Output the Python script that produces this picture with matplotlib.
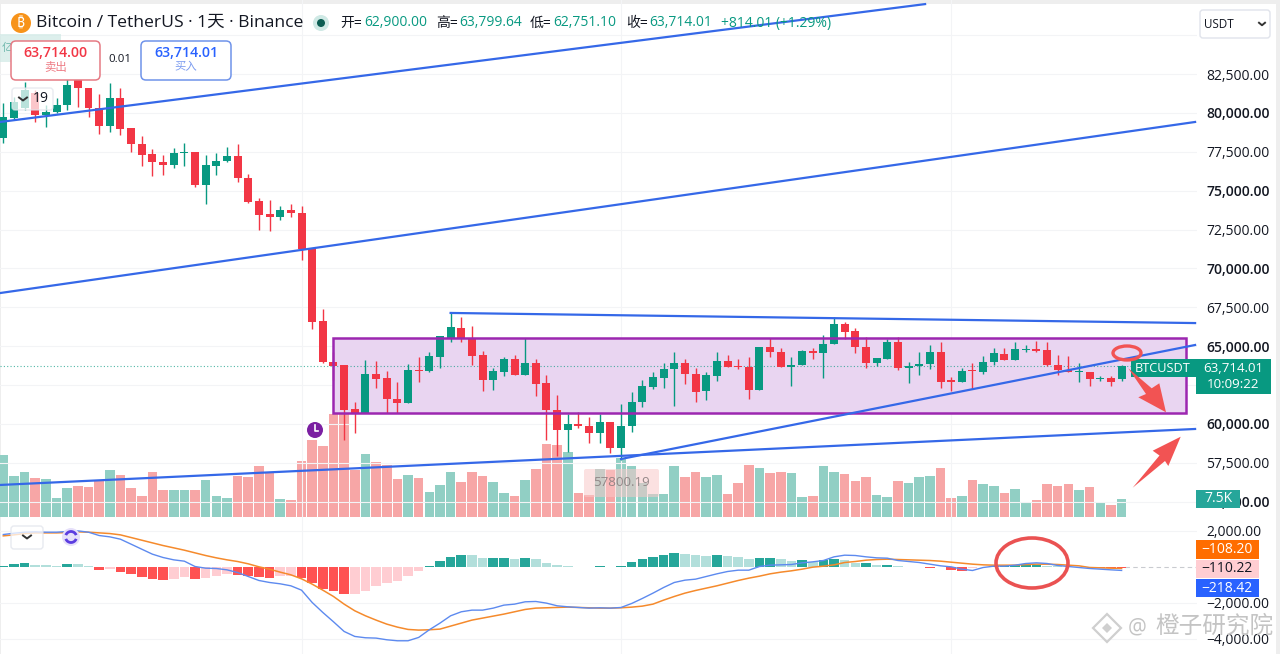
import matplotlib
matplotlib.use("Agg")
import matplotlib.pyplot as plt
from matplotlib.patches import Rectangle, FancyBboxPatch, Circle, Ellipse, Polygon, Arc

plt.rcParams['font.family'] = ['Open Sans', 'Noto Sans CJK SC', 'DejaVu Sans']

# daily candles
opens = [78390,79680,80320,81280,79870,80060,80510,82380,81610,80320,79160,80960,79030,78000,77360,76850,76650,77430,77490,75370,
         76590,76910,77230,75820,74340,73500,73310,73760,73570,71320,66620,63990,63790,60960,60710,63220,62960,61610,61350,63470,
         63410,64310,65530,66170,65530,64440,62830,63340,64180,63150,63920,62640,60900,59610,60000,59870,59420,60130,58460,59870,
         61410,62380,62960,63540,63920,63220,62120,63090,64050,63730,63670,62190,64950,64630,63670,63790,64690,64570,65140,66430,
         65980,64950,63920,64180,65270,63600,63730,63860,64630,62830,62700,63470,63340,63990,64500,64120,64790,64820,64760,63790,
         63470,63340,63340,62890,62960,62900]
highs = [80640,81030,81990,81480,80510,80960,82440,82760,81610,81220,81930,81610,79030,78520,77680,77300,77750,78070,77490,77300,
         77430,77810,78000,76070,74530,74400,74020,74150,74020,71320,67390,64630,63790,61410,64120,64050,63410,62700,63860,64310,
         64630,65660,67200,66880,66300,64690,63600,64310,64440,65530,64180,63150,61860,60640,60770,60450,60640,60130,61290,62060,
         62830,63340,63920,64630,64180,63600,63340,64630,64440,64180,64310,64950,65530,64890,64310,64760,64890,65720,66880,66560,
         66170,65590,64240,65470,65590,63990,64630,65080,65270,63020,63600,63920,64370,64890,64890,65270,65080,65340,65270,64440,
         64370,63920,63340,63090,63090,63800]
lows = [78070,79610,80190,79420,79100,80000,80190,80380,79740,78650,78770,78580,77490,76590,75950,76010,76460,76590,75240,74150,
        76010,76850,75560,74210,72470,72410,73120,73310,70550,66110,63920,62830,58970,59420,60710,62310,60710,60710,61350,62700,
        63340,63600,65270,65270,63790,62120,62190,63090,63150,63150,61800,58970,57940,58200,59740,58780,58780,58140,57690,59490,
        61090,62250,62310,61160,62570,61410,61540,62760,63660,63540,61610,62190,64310,63670,62440,63790,64180,62960,65140,65470,
        64570,63600,63730,64180,63470,62640,63150,63540,62310,62120,62700,62250,63220,63790,64120,64120,64630,64630,63730,63150,
        63340,62700,62440,62760,62440,62751]
closes = [79740,80700,81480,79870,80060,80510,81800,81610,80320,79160,80960,78970,78000,77300,76850,76650,77430,77490,75370,76650,
          76910,77230,75820,74270,73440,73310,73760,73570,71250,66560,63990,63730,60900,60710,63220,62890,61610,61350,63470,63410,
          64370,65660,66240,65530,64370,62830,63410,64180,63150,63920,62570,60900,59610,60000,59870,59420,60130,58460,59870,61410,
          62440,63020,63540,63920,63220,62060,63150,64050,63670,63670,62190,64950,64630,63670,63790,64690,64570,65140,66430,65920,
          64950,63920,64240,65270,63600,63730,63860,64630,62700,62700,63410,63410,63990,64570,64120,64820,64820,64690,63790,63470,
          63340,63410,62890,62960,62700,63714.01]
# volume in thousands
volumes = [25.2,16.9,18.3,16.1,15.7,7.9,12.0,12.8,12.4,14.7,19.4,17.2,12.0,8.7,18.4,10.9,11.2,11.2,11.2,15.0,
           8.7,7.9,16.9,16.5,21.0,18.3,7.5,7.1,23.1,31.5,28.9,42.1,42.1,19.4,25.6,22.4,21.4,15.7,17.2,16.1,
           10.2,13.1,18.3,14.3,18.6,16.9,14.3,9.8,8.5,15.3,19.8,29.7,29.3,26.5,9.8,9.1,19.8,19.1,24.1,21.0,
           13.9,9.4,9.4,21.0,16.5,18.4,16.5,17.3,9.4,13.9,21.4,20.2,18.0,18.4,18.0,8.3,8.7,21.0,18.4,17.6,
           14.6,16.5,9.1,8.3,14.7,13.9,16.5,16.9,20.2,7.9,8.7,15.3,13.5,12.8,9.8,11.6,6.1,7.1,13.5,12.8,
           13.5,10.9,12.4,5.7,5.0,7.5]
macd_line = [1776,1850,1906,1924,1906,1906,1943,1980,1906,1721,1647,1517,1240,962,685,500,370,296,0,-93,
             -111,-185,-333,-555,-777,-888,-962,-1073,-1314,-1998,-2553,-3071,-3608,-3885,-3959,-3978,-4070,-4126,-4126,-3941,
             -3515,-3145,-2738,-2516,-2424,-2424,-2313,-2146,-2091,-1961,-1943,-2035,-2183,-2239,-2276,-2313,-2294,-2313,-2276,-2054,
             -1776,-1480,-1166,-888,-759,-703,-555,-407,-278,-204,-204,0,74,93,111,204,259,333,537,629,
             611,537,481,463,333,278,222,130,37,-19,-148,-222,-56,19,19,74,167,204,167,56,
             0,-56,-111,-148,-185,-218.42]
signal_line = [1702,1757,1831,1868,1868,1868,1887,1924,1906,1868,1831,1757,1609,1461,1313,1165,1036,906,758,610,
               481,370,277,148,-18,-148,-314,-462,-684,-980,-1314,-1665,-2090,-2460,-2738,-2978,-3200,-3367,-3496,-3533,
               -3515,-3478,-3311,-3145,-2978,-2867,-2756,-2645,-2516,-2386,-2312,-2294,-2275,-2257,-2275,-2294,-2312,-2312,-2294,-2257,
               -2201,-2090,-1868,-1665,-1480,-1332,-1202,-1073,-925,-777,-647,-536,-407,-314,-240,-148,-37,18,92,222,
               277,351,388,407,388,370,351,333,296,240,185,130,92,74,74,74,111,130,130,111,
               74,37,-55,-74,-92,-108.20]
macd_hist = [37,148,204,111,74,55,148,130,18,-185,-148,-296,-425,-592,-684,-758,-684,-573,-703,-629,
             -518,-425,-462,-555,-610,-647,-555,-518,-666,-925,-1258,-1369,-1554,-1554,-1369,-1091,-943,-814,-500,-259,
             55,296,555,648,629,481,481,500,444,500,389,222,74,37,-37,-37,55,-18,37,240,
             389,555,648,740,722,629,592,648,592,537,407,481,481,389,333,352,259,352,389,370,
             185,185,74,92,37,-18,-55,-92,-37,-185,-240,-111,-37,18,18,92,111,111,55,18,
             -18,-37,-55,-74,-92,-110.22]

price_ticks = [82500, 80000, 77500, 75000, 72500, 70000, 67500, 65000, 60000, 57500, 55000]
macd_ticks = [2000, -2000, -4000]
grid_bars = [28, 58, 89]

# trend lines as (bar, price) pairs
trend_lines = [
    ([-0.31, 86.55], [79420, 87000]),
    ([-0.31, 111.9], [68420, 79420]),
    ([42, 111.9], [67140, 66490]),
    ([58, 111.9], [57750, 65080]),
    ([-0.31, 111.9], [56080, 59680]),
]
box_bars = [30.96, 111.05]
box_prices = [60710, 65530]

GREEN = "#089981"
RED = "#f23645"
BLUE = "#2962ff"
INK = "#f25353"
TEXT = "#131722"

W, H = 1280, 654
XLIM = (-0.31, 112.08)
n = len(opens)
bars = list(range(n))
up = [c >= o for o, c in zip(opens, closes)]

fig = plt.figure(figsize=(W / 100, H / 100), dpi=100, facecolor="#eeeeee")
fig.add_artist(Rectangle((1 / W, 0), 1275 / W, 650 / H, transform=fig.transFigure,
                         facecolor="white", edgecolor="none", zorder=-5))

pane_x = 1197 / W
ax_vol = fig.add_axes([0, (H - 517) / H, pane_x, 517 / H], zorder=1)
ax = fig.add_axes([0, (H - 517) / H, pane_x, 517 / H], zorder=2)
ax_macd = fig.add_axes([0, 0, pane_x, (H - 517) / H], zorder=2)

for a in (ax_vol, ax, ax_macd):
    a.patch.set_visible(False)
    a.set_xlim(*XLIM)
    a.set_xticks([])
    for s in a.spines.values():
        s.set_visible(False)

ax_vol.set_ylim(0, 211.5)
ax_vol.set_yticks([])
ax_vol.bar(bars, volumes, width=0.9, color=["#91cfc4" if u else "#f7a6a6" for u in up], zorder=2)

ax.set_ylim(54020, 87263)
ax.yaxis.tick_right()
ax.set_yticks(price_ticks)
ax.set_yticklabels([f"{t:,.2f}" for t in price_ticks], fontsize=10, color=TEXT)
ax.tick_params(axis="y", length=0, pad=6.5)
for lab, t in zip(ax.get_yticklabels(), price_ticks):
    if t % 5000 == 0:
        lab.set_fontweight("semibold")
for t in price_ticks + [62500, 85000]:
    ax.axhline(t, color="#f3f4f6", lw=0.8, zorder=0)
for b in grid_bars:
    ax.axvline(b, color="#f3f4f6", lw=0.8, zorder=0)
    ax_macd.axvline(b, color="#f3f4f6", lw=0.8, zorder=0)

ax.add_patch(Rectangle((box_bars[0], box_prices[0]), box_bars[1] - box_bars[0], box_prices[1] - box_prices[0],
                       facecolor="#e9d5f1", edgecolor="none", zorder=1))
ax.axhline(closes[-1], color=GREEN, lw=0.8, ls=(0, (1, 2)), alpha=0.7, zorder=2)

colors = [GREEN if u else RED for u in up]
ax.vlines(bars, lows, highs, colors=colors, lw=1, zorder=3)
ax.bar(bars, [abs(c - o) for o, c in zip(opens, closes)], bottom=[min(o, c) for o, c in zip(opens, closes)],
       width=0.75, color=colors, zorder=4)

ax.add_patch(Rectangle((box_bars[0], box_prices[0]), box_bars[1] - box_bars[0], box_prices[1] - box_prices[0],
                       facecolor="none", edgecolor="#9c27b0", lw=1.8, zorder=5))
for xs, ys in trend_lines:
    ax.plot(xs, ys, color="#3568e8", lw=1.6, zorder=6)

ax_macd.set_ylim(-4861, 2750)
ax_macd.yaxis.tick_right()
ax_macd.set_yticks(macd_ticks)
ax_macd.set_yticklabels(["2,000.00", "\u22122,000.00", "\u22124,000.00"], fontsize=10, color=TEXT)
ax_macd.tick_params(axis="y", length=0, pad=6.5)
for t in macd_ticks:
    ax_macd.axhline(t, color="#f3f4f6", lw=0.8, zorder=0)
ax_macd.axhline(0, xmin=0.94, color="#c9cbd0", lw=0.8, ls=(0, (4, 3)), zorder=1)

hist_colors = []
for i, v in enumerate(macd_hist):
    prev = macd_hist[i - 1] if i else 0
    if v >= 0:
        hist_colors.append("#26a69a" if v >= prev else "#b2dfdb")
    else:
        hist_colors.append("#ff5252" if v < prev else "#ffcdd2")
ax_macd.bar(bars, macd_hist, width=0.9, color=hist_colors, zorder=2)
ax_macd.plot(bars, signal_line, color="#f58a2c", lw=1.1, zorder=3)
ax_macd.plot(bars, macd_line, color="#5d8aef", lw=1.0, zorder=4)

# overlay in screenshot pixels for the labels and hand-drawn marks
ov = fig.add_axes([0, 0, 1, 1], zorder=10)
ov.set_xlim(0, W)
ov.set_ylim(H, 0)
ov.axis("off")


def box(x0, y0, x1, y1, fc, ec="none", lw=1.0, round_px=0.0, alpha=None, z=3):
    style = f"round,pad=0,rounding_size={round_px}" if round_px else "square,pad=0"
    ov.add_patch(FancyBboxPatch((x0, y0), x1 - x0, y1 - y0, boxstyle=style, fc=fc, ec=ec, lw=lw, alpha=alpha, zorder=z))


def label(x, y, s, size=10, color=TEXT, ha="left", weight="normal", z=5, alpha=None):
    ov.text(x, y, s, fontsize=size, color=color, ha=ha, va="center", fontweight=weight, zorder=z, alpha=alpha)


def chevron(x, y, w=4, h=3, color="#333333"):
    ov.plot([x - w, x, x + w], [y - h / 2, y + h / 2, y - h / 2], color=color, lw=1.4, zorder=6)


# header
ov.add_patch(Circle((21, 23), 10, fc="#f7931a", ec="none", zorder=5))
ov.text(21, 23, "\u20bf", fontsize=10, color="white", ha="center", va="center", zorder=6,
        family=['DejaVu Sans', 'Roboto', 'Noto Sans'])
label(36, 23, "Bitcoin / TetherUS \u00b7 1\u5929 \u00b7 Binance", size=12.6, color=TEXT, weight="medium")
ov.add_patch(Circle((321, 23), 8, fc="#cfe9e5", ec="none", zorder=5))
ov.add_patch(Circle((321, 23), 4, fc="#0b5d52", ec="none", zorder=6))
ohlc = [(340, "\u5f00", 364, "62,900.00"), (436, "\u9ad8", 459, "63,799.64"),
        (530, "\u4f4e", 553, "62,751.10"), (626, "\u6536", 649, "63,714.01")]
for x0, name, x1, val in ohlc:
    label(x0, 23, name + "=", size=10, color=TEXT)
    label(x1, 23, val, size=10, color=GREEN)
label(721, 23, "+814.01 (+1.29%)", size=10, color=GREEN)

box(1200, 10, 1270, 38, "white", ec="#e0e3eb", round_px=3)
label(1204, 24, "USDT", size=8.4, color=TEXT)
chevron(1262, 24, w=3, h=2.5)

# order widgets
box(0, 34, 61, 62, "#cfe9e5", alpha=0.7, z=2)
label(2, 48, "\u4ebf", size=8, color="#6fb8ad", z=3)
box(11, 41, 100, 80, "white", ec="#e57a84", lw=1.1, round_px=5)
label(55.5, 53, "63,714.00", size=10.2, color=RED, ha="center", weight="semibold")
label(55.5, 68, "\u5356\u51fa", size=8.2, color="#ee7b84", ha="center")
label(120, 60, "0.01", size=8.2, color=TEXT, ha="center")
box(141, 41, 231, 80, "white", ec="#6f93ea", lw=1.1, round_px=5)
label(186, 53, "63,714.01", size=10.2, color=BLUE, ha="center", weight="semibold")
label(186, 68, "\u4e70\u5165", size=8.2, color="#7c9cf0", ha="center")
box(12, 88, 53, 110, "white", ec="#e0e3eb", round_px=3, alpha=0.72)
chevron(23, 99)
label(41, 99, "19", size=10, color=TEXT, ha="center")

# price tags
box(1131, 359, 1196, 377, GREEN, z=4)
label(1163, 368, "BTCUSDT", size=9.2, color="white", ha="center")
box(1196, 359, 1271, 394, GREEN, z=4)
label(1233, 368, "63,714.01", size=9.6, color="white", ha="center")
label(1233, 385, "10:09:22", size=9.6, color="white", ha="center")
box(1196, 490, 1240, 508, "#26a69a", z=4)
label(1218, 499, "7.5K", size=10, color="white", ha="center")
box(1196, 540, 1259, 559, "#ff6d00", z=4)
label(1227, 549.5, "\u2212108.20", size=10, color="white", ha="center")
box(1196, 560, 1259, 578, "#ffcdd2", z=4)
label(1227, 569, "\u2212110.22", size=10, color=TEXT, ha="center")
box(1196, 579, 1259, 597, BLUE, z=4)
label(1227, 588, "\u2212218.42", size=10, color="white", ha="center")

# low tooltip
box(584, 469, 659, 497, "#f9c9c9", alpha=0.55, round_px=2)
label(622, 482, "57800.19", size=9.6, color="#8a7f80", ha="center", alpha=0.9)

# small icons
ov.add_patch(Circle((315, 430), 8, fc="#7b1fa2", ec="none", zorder=5))
ov.plot([315, 315, 318], [425, 431, 431], color="white", lw=1.2, zorder=6)
box(11, 526, 43, 549, "white", ec="#e0e3eb", round_px=3, alpha=0.75)
chevron(27, 537)
ov.add_patch(Circle((71, 537), 9, fc="#e6e0fa", ec="none", zorder=5))
ov.add_patch(Arc((71, 537), 11, 11, theta1=20, theta2=160, color="#5b3de0", lw=2, zorder=6))
ov.add_patch(Arc((71, 537), 11, 11, theta1=200, theta2=340, color="#5b3de0", lw=2, zorder=6))

# hand-drawn marks
ov.add_patch(Ellipse((1127, 353), 28, 14, fc="none", ec=INK, lw=2.4, zorder=7))
ov.add_patch(Ellipse((1032, 563), 72, 50, fc="none", ec="#ea5252", lw=2.6, zorder=7))
ov.add_patch(Polygon([(1128.3, 368.3), (1151.7, 388.3), (1159.3, 383.3), (1166, 412.3),
                      (1138.3, 397.3), (1146, 394)], closed=True, fc=INK, ec="none", zorder=7))
ov.add_patch(Polygon([(1132.7, 487.7), (1159.5, 455.5), (1152.7, 450.7), (1180.7, 436.7),
                      (1168.3, 466), (1165, 461)], closed=True, fc=INK, ec="none", zorder=7))

# watermark
ov.add_patch(Polygon([(1107, 614), (1121, 628), (1107, 642), (1093, 628)], closed=True,
                     fc="none", ec="#cfcfcf", lw=1.6, zorder=8))
ov.add_patch(Polygon([(1107, 623), (1112, 628), (1107, 633), (1102, 628)], closed=True,
                     fc="#cfcfcf", ec="none", zorder=8))
label(1137, 628, "@", size=15, color="#c4c4c4", ha="center", z=8)
label(1155, 627, "\u6a59\u5b50\u7814\u7a76\u9662", size=17, color="#c4c4c4", z=8)

fig.savefig("out.png", dpi=100, facecolor=fig.get_facecolor())
